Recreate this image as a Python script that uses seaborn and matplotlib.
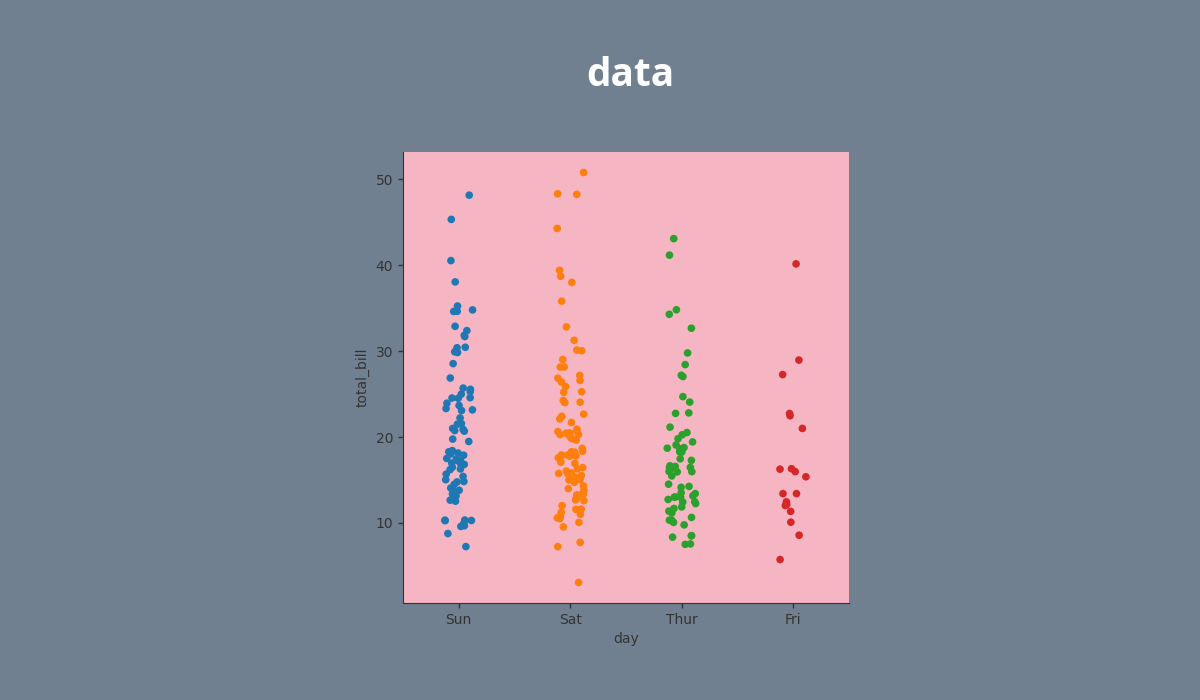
import numpy as np
import pandas as pd
import matplotlib
matplotlib.use("Agg")
import matplotlib.pyplot as plt
import seaborn as sns

days = ["Sun", "Sat", "Thur", "Fri"]

sun_bill = [16.99, 10.34, 21.01, 23.68, 24.59, 25.29, 8.77, 26.88, 15.04, 14.78, 10.27, 35.26,
            15.42, 18.43, 14.83, 21.58, 10.33, 16.29, 16.97,
            17.46, 13.94, 9.68, 30.40, 18.29, 22.23, 32.40, 28.55, 18.04, 12.54, 10.29, 34.81,
            9.94, 25.56, 19.49,
            38.07, 23.95, 25.71, 17.31, 29.93,
            14.07, 13.13, 17.26, 24.55, 19.77, 29.85, 48.17, 25.00, 13.39, 16.49, 21.50, 12.66,
            16.21, 13.81, 17.51, 24.52, 20.76, 31.71,
            7.25, 31.85, 16.82, 32.90, 17.89, 14.48, 9.60, 34.63, 34.65, 23.33, 45.35, 23.17,
            40.55, 20.69, 20.90, 30.46, 18.15, 23.10, 15.69]

sat_bill = [20.65, 17.92, 20.29, 15.77, 39.42, 19.82, 17.81, 13.37, 12.69, 21.70, 19.65, 9.55,
            18.35, 15.06, 20.69, 17.78, 24.06, 16.31, 16.93, 18.69, 31.27, 16.04,
            38.01, 26.41, 11.24, 48.27, 20.29, 13.81, 11.02, 18.29, 17.59, 20.08, 16.45, 3.07,
            20.23, 15.01, 12.02, 17.07, 26.86, 25.28, 14.73, 10.51, 17.92,
            44.30, 22.42, 20.92, 15.36, 20.49, 25.21, 18.24, 14.31, 14.00, 7.25,
            10.59, 10.63, 50.81, 15.81,
            26.59, 38.73, 24.27, 12.76, 30.06, 25.89, 48.33, 13.27, 28.17, 12.90, 28.15, 11.59,
            7.74, 30.14,
            20.45, 13.28, 22.12, 24.01, 15.69, 11.61, 10.77, 15.53, 10.07, 12.60, 32.83, 35.83,
            29.03, 27.18, 22.67, 17.82]

thur_bill = [27.20, 22.76, 17.29, 19.44, 16.66, 10.07, 32.68, 15.98, 34.83, 13.03, 18.28, 24.71,
             21.16,
             10.65, 12.43, 24.08, 11.69, 13.42, 14.26, 15.95, 12.48, 29.80, 8.52, 14.52, 11.38,
             22.82, 19.08, 20.27, 11.17, 12.26, 18.26, 8.51, 10.33, 14.15, 16.00, 13.16, 17.47,
             34.30, 41.19, 27.05, 16.43, 8.35, 18.64, 11.87, 9.78, 7.51,
             19.81, 28.44, 15.48, 16.58, 7.56, 10.34, 43.11, 13.00, 13.51, 18.71, 12.74, 13.00,
             16.40, 20.53, 16.47,
             18.78]

fri_bill = [28.97, 22.49, 5.75, 16.32, 22.75, 40.17, 27.28, 12.03, 21.01, 12.46, 11.35, 15.38,
            12.16, 13.42, 8.58, 15.98, 13.42, 16.27, 10.09]

title_text = "data"

df = pd.DataFrame({
    "day": (["Sun"] * len(sun_bill) + ["Sat"] * len(sat_bill)
            + ["Thur"] * len(thur_bill) + ["Fri"] * len(fri_bill)),
    "total_bill": sun_bill + sat_bill + thur_bill + fri_bill,
})

sns.set_style("ticks")
text_col = "#333333"
plt.rcParams.update({
    "axes.edgecolor": text_col,
    "axes.labelcolor": text_col,
    "xtick.color": text_col,
    "ytick.color": text_col,
    "text.color": text_col,
    "font.family": ["DejaVu Sans"],
})

bg = "#708090"
fig = plt.figure(figsize=(12, 7), dpi=100, facecolor=bg)
ax = fig.add_axes([403 / 1200, 1 - 603 / 700, 446 / 1200, 451 / 700])
ax.set_facecolor("#F5B5C2")

np.random.seed(3)
sns.stripplot(data=df, x="day", y="total_bill", hue="day", order=days, hue_order=days,
              palette="tab10", size=5.5, jitter=0.13, legend=False, ax=ax)

sns.despine(ax=ax)
ax.tick_params(labelsize=10, length=3.5, width=1)
ax.set_xlabel("day", fontsize=10)
ax.set_ylabel("total_bill", fontsize=10)

fig.text(0.525, 1 - 86 / 700, title_text, ha="center", va="baseline", color="white",
         fontsize=28, fontweight="bold", family=["Open Sans", "DejaVu Sans"])

fig.savefig("out.png", dpi=100, facecolor=bg)
